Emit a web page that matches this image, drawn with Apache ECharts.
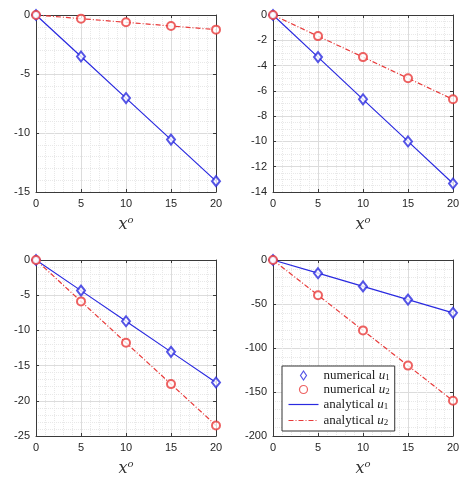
<!DOCTYPE html>
<html>
<head>
<meta charset="utf-8">
<script src="https://cdn.jsdelivr.net/npm/echarts@6/dist/echarts.min.js"></script>
<style>
  html, body { margin: 0; padding: 0; background: #fff; }
  #main { width: 474px; height: 482px; }
</style>
</head>
<body>
<div id="main"></div>
<script>
// x positions shared by all four panels
var xs = [0, 5, 10, 15, 20];

// panel 1 (top left)
var num1U1 = [0, -3.52, -7.04, -10.56, -14.08];
var num1U2 = [0, -0.31, -0.62, -0.93, -1.24];
var ana1U1 = [0, -3.52, -7.04, -10.56, -14.08];
var ana1U2 = [0, -0.31, -0.62, -0.93, -1.24];
// panel 2 (top right)
var num2U1 = [0, -3.33, -6.67, -10, -13.33];
var num2U2 = [0, -1.67, -3.33, -5, -6.67];
var ana2U1 = [0, -3.33, -6.67, -10, -13.33];
var ana2U2 = [0, -1.67, -3.33, -5, -6.67];
// panel 3 (bottom left)
var num3U1 = [0, -4.35, -8.7, -13.05, -17.4];
var num3U2 = [0, -5.88, -11.75, -17.63, -23.5];
var ana3U1 = [0, -4.35, -8.7, -13.05, -17.4];
var ana3U2 = [0, -5.88, -11.75, -17.63, -23.5];
// panel 4 (bottom right)
var num4U1 = [0, -15, -30, -45, -60];
var num4U2 = [0, -40, -80, -120, -160];
var ana4U1 = [0, -15, -30, -45, -60];
var ana4U2 = [0, -40, -80, -120, -160];

// y axis ranges
var yMins = [-15, -14, -25, -200];
var yIntervals = [5, 2, 5, 50];
var yMinor = [5, 4, 5, 5];

var legendNames = ['numerical u1', 'numerical u2', 'analytical u1', 'analytical u2'];

var BLUE = '#2a2ae0';
var RED = '#e83a3a';
var AX = '#3a3a3a';
var DASHDOT = [5, 2, 1, 2];

var panels = [
  [num1U1, num1U2, ana1U1, ana1U2],
  [num2U1, num2U2, ana2U1, ana2U2],
  [num3U1, num3U2, ana3U1, ana3U2],
  [num4U1, num4U2, ana4U1, ana4U2]
];

var grids = [
  {left: 36, top: 15, width: 180, height: 177},
  {left: 273, top: 15, width: 180, height: 177},
  {left: 36, top: 260, width: 180, height: 176},
  {left: 273, top: 260, width: 180, height: 176}
];

function pairs(vals) {
  var out = [];
  for (var i = 0; i < xs.length; i++) {
    out.push([xs[i], vals[i]]);
  }
  return out;
}

var xAxes = [], yAxes = [], series = [];

for (var g = 0; g < 4; g++) {
  // bottom x axis with labels and grid
  xAxes.push({
    type: 'value', gridIndex: g, min: 0, max: 20, interval: 5,
    name: '{x|x}{o|o}', nameLocation: 'middle', nameGap: 23,
    nameTextStyle: {
      rich: {
        x: {fontFamily: 'DejaVu Serif', fontStyle: 'italic', fontSize: 16, color: '#333'},
        o: {fontFamily: 'DejaVu Serif', fontStyle: 'italic', fontSize: 10, color: '#333', verticalAlign: 'top', padding: [0, 0, 9, 0]}
      }
    },
    axisLine: {show: true, onZero: false, lineStyle: {color: AX, width: 1}},
    axisTick: {show: true, inside: true, length: 3, lineStyle: {color: AX}},
    axisLabel: {color: '#262626', fontSize: 11, fontFamily: 'Liberation Sans', margin: 6},
    splitLine: {show: true, lineStyle: {color: '#dcdcdc', width: 1}},
    minorTick: {show: false, splitNumber: 5},
    minorSplitLine: {show: true, lineStyle: {color: '#e8e8e8', type: [1, 1], width: 1}}
  });
  // top x axis, only for the box ticks
  xAxes.push({
    type: 'value', gridIndex: g, min: 0, max: 20, interval: 5, position: 'top',
    axisLine: {show: true, onZero: false, lineStyle: {color: AX, width: 1}},
    axisTick: {show: true, inside: true, length: 3, lineStyle: {color: AX}},
    axisLabel: {show: false},
    splitLine: {show: false}
  });
  yAxes.push({
    type: 'value', gridIndex: g, min: yMins[g], max: 0, interval: yIntervals[g],
    axisLine: {show: true, onZero: false, lineStyle: {color: AX, width: 1}},
    axisTick: {show: true, inside: true, length: 3, lineStyle: {color: AX}},
    axisLabel: {color: '#262626', fontSize: 11, fontFamily: 'Liberation Sans', margin: 6},
    splitLine: {show: true, lineStyle: {color: '#dcdcdc', width: 1}},
    minorTick: {show: false, splitNumber: yMinor[g]},
    minorSplitLine: {show: true, lineStyle: {color: '#e8e8e8', type: [1, 1], width: 1}}
  });
  yAxes.push({
    type: 'value', gridIndex: g, min: yMins[g], max: 0, interval: yIntervals[g], position: 'right',
    axisLine: {show: true, onZero: false, lineStyle: {color: AX, width: 1}},
    axisTick: {show: true, inside: true, length: 3, lineStyle: {color: AX}},
    axisLabel: {show: false},
    splitLine: {show: false}
  });

  var d = panels[g];
  series.push({
    name: legendNames[2], type: 'line', xAxisIndex: g * 2, yAxisIndex: g * 2,
    data: pairs(d[2]), showSymbol: false, symbol: 'none', z: 3,
    lineStyle: {color: BLUE, width: 1.2}, itemStyle: {color: BLUE}
  });
  series.push({
    name: legendNames[3], type: 'line', xAxisIndex: g * 2, yAxisIndex: g * 2,
    data: pairs(d[3]), showSymbol: false, symbol: 'none', z: 3,
    lineStyle: {color: RED, width: 1.2, type: DASHDOT}, itemStyle: {color: RED}
  });
  series.push({
    name: legendNames[0], type: 'scatter', xAxisIndex: g * 2, yAxisIndex: g * 2,
    data: pairs(d[0]), symbol: 'emptyDiamond', symbolSize: [8, 10], z: 4,
    itemStyle: {color: BLUE, borderColor: BLUE, borderWidth: 1}
  });
  series.push({
    name: legendNames[1], type: 'scatter', xAxisIndex: g * 2, yAxisIndex: g * 2,
    data: pairs(d[1]), symbol: 'emptyCircle', symbolSize: 8, z: 4,
    itemStyle: {color: RED, borderColor: RED, borderWidth: 1}
  });
}

// legend icons: the leading moves fix a 30x10 box so the marker stays centred
var iconDiamond = 'path://M0,0M30,10M15,0.5L18,5L15,9.5L12,5Z';
var iconCircle = 'path://M0,0M30,10M19,5A4,4,0,1,1,11,5A4,4,0,1,1,19,5Z';
var iconLine = 'path://M0,0M30,10M0,5L30,5';

var chart = echarts.init(document.getElementById('main'));
chart.setOption({
  animation: false,
  grid: grids,
  xAxis: xAxes,
  yAxis: yAxes,
  legend: {
    data: [
      {name: legendNames[0], icon: iconDiamond, itemStyle: {color: '#fff', borderColor: BLUE, borderWidth: 1.2}},
      {name: legendNames[1], icon: iconCircle, itemStyle: {color: '#fff', borderColor: RED, borderWidth: 1.2}},
      {name: legendNames[2], icon: iconLine, itemStyle: {color: 'none', borderColor: BLUE, borderWidth: 1.2}},
      {name: legendNames[3], icon: iconLine, itemStyle: {color: 'none', borderColor: RED, borderWidth: 1.2, borderType: DASHDOT}}
    ],
    orient: 'vertical',
    left: 282, top: 366,
    padding: [3, 5, 3, 4],
    itemGap: 1,
    itemWidth: 30, itemHeight: 10,
    symbolKeepAspect: false,
    backgroundColor: '#fff',
    borderColor: '#333', borderWidth: 1,
    formatter: function (name) {
      var parts = name.split(' ');
      var idx = parts[1].charAt(1);
      return '{t|' + parts[0] + ' }{u|u}{s|' + idx + '}';
    },
    textStyle: {
      rich: {
        t: {fontFamily: 'Liberation Serif', fontSize: 13, color: '#222', lineHeight: 13},
        u: {fontFamily: 'Liberation Serif', fontStyle: 'italic', fontSize: 13, color: '#222', lineHeight: 13},
        s: {fontFamily: 'Liberation Serif', fontSize: 9, color: '#222', lineHeight: 9, verticalAlign: 'bottom', padding: [4, 0, 0, 0]}
      }
    }
  },
  series: series
});
</script>
</body>
</html>
